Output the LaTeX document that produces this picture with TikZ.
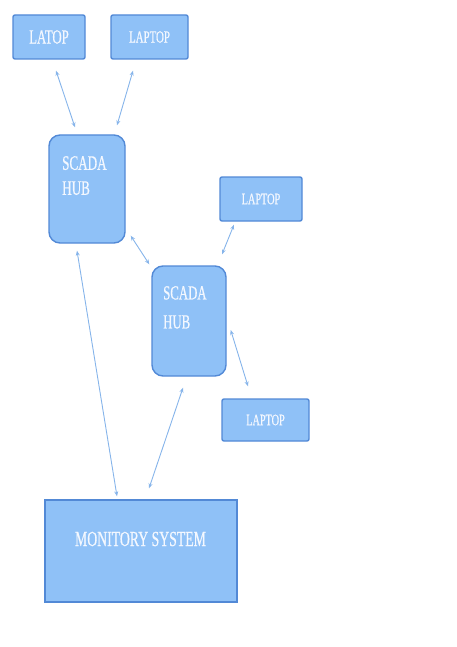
\documentclass[tikz,border=0pt]{standalone}
\usepackage{fontspec}
\newfontfamily\cf[FakeStretch=0.64,FakeBold=0.6]{Liberation Serif}
\usetikzlibrary{calc,arrows.meta}
\definecolor{boxfill}{HTML}{8FC1F7}
\definecolor{boxline}{HTML}{5289D6}
\definecolor{arrowc}{HTML}{86B4EA}
\definecolor{txt}{HTML}{F4F8FF}
\tikzset{
  box/.style={draw=boxline, fill=boxfill, line width=1.4pt, rounded corners=2pt, inner sep=0pt, text=txt},
  hub/.style={box, rounded corners=11pt},
  link/.style={draw=arrowc, line width=0.9pt, {Stealth[length=5pt,width=4pt]}-{Stealth[length=5pt,width=4pt]}},
  lbl/.style={text=txt, inner sep=0pt, align=left}
}
\begin{document}
\begin{tikzpicture}[x=1pt,y=-1pt]
\useasboundingbox (0,0) rectangle (457,647);
\node[box, minimum width=72pt, minimum height=44pt, font=\cf\fontsize{20}{22}\selectfont] (latop) at (49,37) {LATOP};
\node[box, minimum width=77pt, minimum height=44pt, font=\cf\fontsize{17}{20}\selectfont] (lap1) at (149.5,37) {LAPTOP};
\node[hub, minimum width=76pt, minimum height=108pt] (hub1) at (87,189) {};
\node[lbl, anchor=north west, font=\cf\fontsize{20.5}{25}\selectfont] (hub1t) at (62,156) {SCADA\\HUB};
\node[box, minimum width=82pt, minimum height=44pt, font=\cf\fontsize{16}{19}\selectfont] (lap2) at (261,199) {LAPTOP};
\node[hub, minimum width=74pt, minimum height=110pt] (hub2) at (189,321) {};
\node[lbl, anchor=north west, font=\cf\fontsize{20}{29}\selectfont] (hub2t) at (163,286) {SCADA\\HUB};
\node[box, minimum width=87pt, minimum height=42pt, font=\cf\fontsize{16}{19}\selectfont] (lap3) at (265.5,420) {LAPTOP};
\node[box, rounded corners=0pt, minimum width=192pt, minimum height=102pt] (mon) at (141,551) {};
\node[lbl, font=\cf\fontsize{21.5}{24}\selectfont] (mont) at (140.5,539) {MONITORY SYSTEM};
\draw[link] ($(latop.south)+(7,11)$) -- ($(hub1.north)+(-12,-7)$);
\draw[link] ($(lap1.south)+(-16.5,11)$) -- ($(hub1.north)+(30,-9)$);
\draw[link] ($(hub1.south east)+(5,-8)$) -- ($(hub2.north west)+(-2,-1)$);
\draw[link] ($(lap2.south)+(-27,3)$) -- ($(hub2.north)+(33,-11)$);
\draw[link] ($(hub2.east)+(4,9)$) -- ($(lap3.north)+(-17.5,-12)$);
\draw[link] ($(hub1.south)+(-10,7)$) -- ($(mon.north)+(-24,-3)$);
\draw[link] ($(hub2.south)+(-6,11)$) -- ($(mon.north)+(8,-11)$);
\end{tikzpicture}
\end{document}
